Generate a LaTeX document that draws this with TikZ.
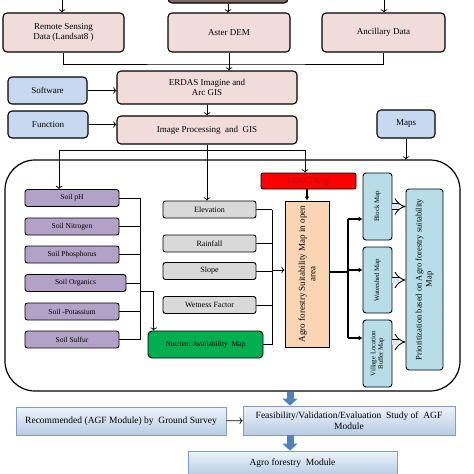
\documentclass[tikz,border=0pt]{standalone}
\usepackage{fontspec}
\setmainfont{Liberation Serif}
\usetikzlibrary{arrows.meta}
\definecolor{pinkfill}{HTML}{F2DCDB}
\definecolor{softblue}{HTML}{C6D9F1}
\definecolor{soilpurple}{HTML}{B3A2C7}
\definecolor{greyfill}{HTML}{D9D9D9}
\definecolor{nutrgreen}{HTML}{00B050}
\definecolor{lulcred}{HTML}{FF0000}
\definecolor{lulctext}{HTML}{A50000}
\definecolor{peach}{HTML}{FBD4B4}
\definecolor{mapteal}{HTML}{B7DEE8}
\definecolor{topbrown}{HTML}{7B6B69}
\definecolor{modtop}{HTML}{EEF3FA}
\definecolor{modbot}{HTML}{B8CCE4}
\definecolor{modborder}{HTML}{7F9DC7}
\definecolor{arrowblue}{HTML}{4F81BD}
\definecolor{hollowfill}{HTML}{DCE6F2}
\tikzset{
  base/.style={draw, line width=1.1pt, rounded corners=4pt, align=center, inner sep=1pt},
  pinkbox/.style={base, fill=pinkfill, font=\fontsize{9}{10.5}\selectfont},
  bluebox/.style={base, fill=softblue, font=\fontsize{9}{10.5}\selectfont},
  soilbox/.style={base, line width=0.9pt, rounded corners=2.5pt, fill=soilpurple, minimum width=94pt, minimum height=17pt, font=\fontsize{7.5}{9}\selectfont},
  greybox/.style={base, line width=0.9pt, rounded corners=2.5pt, fill=greyfill, minimum width=93pt, minimum height=17pt, font=\fontsize{8}{9}\selectfont},
  mapbox/.style={base, line width=0.9pt, rounded corners=3pt, fill=mapteal, minimum width=29pt},
  maptext/.style={rotate=90, align=center, font=\fontsize{6.8}{7.5}\selectfont},
  modbox/.style={draw=modborder, line width=0.8pt, top color=modtop, bottom color=modbot, align=center, inner sep=1pt, font=\fontsize{9.5}{11}\selectfont},
  link/.style={->, line width=0.7pt},
  boldlink/.style={-{Latex[length=4pt,width=5pt]}, line width=2pt},
  blockarrow/.style={draw=arrowblue, line width=7pt, -{Triangle[length=7pt,width=15pt]}},
  hollow/.style={double=hollowfill, double distance=5pt, line width=0.9pt, -{Implies}},
}
\begin{document}
\begin{tikzpicture}[x=1pt, y=-1pt]
  \useasboundingbox (0,0) rectangle (474,474);
  \node[draw, line width=1.2pt, rounded corners=30pt, minimum width=455pt, minimum height=231pt] (frame) at (232.5,275.5) {};

  \node[base, fill=topbrown, minimum width=120pt, minimum height=24pt] (top) at (228,-9) {};
  \node[pinkbox, minimum width=121pt, minimum height=39pt] (rs) at (63.5,32.5) {Remote Sensing\\Data (Landsat8 )};
  \node[pinkbox, minimum width=122pt, minimum height=39pt] (aster) at (229,32.5) {Aster DEM};
  \node[pinkbox, minimum width=123pt, minimum height=39pt] (anc) at (383.5,32.5) {Ancillary Data};
  \node[pinkbox, minimum width=180pt, minimum height=33pt] (erdas) at (207,87.5) {ERDAS Imagine and\\Arc GIS};
  \node[bluebox, minimum width=79pt, minimum height=27pt] (soft) at (47.5,90.5) {Software};
  \node[bluebox, minimum width=80pt, minimum height=27pt] (func) at (48,124.5) {Function};
  \node[pinkbox, minimum width=180pt, minimum height=28pt] (ip) at (207,130) {Image Processing \ and \ GIS};
  \node[bluebox, minimum width=58pt, minimum height=28pt] (maps) at (406,124) {Maps};

  \coordinate (t1) at (62,-2);
  \coordinate (t3) at (384,-2);
  \draw[link] (t1) -- (t1 |- rs.north);
  \draw[link] (top.south) -- (top.south |- aster.north);
  \draw[link] (t3) -- (t3 |- anc.north);
  \coordinate (mg) at (229,64);
  \draw[line width=0.7pt] (rs.south) |- (mg) -| (anc.south);
  \draw[link] (aster.south) -- (aster.south |- erdas.north);
  \draw[link] (soft) -- (erdas.west |- soft);
  \draw[link] (func) -- (ip.west |- func);
  \draw[link] (erdas.south) -- (ip.north);
  \draw[link] (maps.south) -- (maps.south |- frame.north);

  \node[soilbox] (ph) at (72,198) {Soil pH};
  \node[soilbox] (nit) at (72,226.5) {Soil Nitrogen};
  \node[soilbox] (pho) at (72,254.5) {Soil Phosphorus};
  \node[soilbox, minimum width=101pt] (org) at (75.5,283) {Soil Organics};
  \node[soilbox] (pot) at (72,311.5) {Soil -Potassium};
  \node[soilbox] (sul) at (72,339.5) {Soil Sulfur};

  \node[greybox] (elev) at (209.5,209.5) {Elevation};
  \node[greybox] (rain) at (209.5,243.5) {Rainfall};
  \node[greybox] (slope) at (209.5,271) {Slope};
  \node[greybox] (wet) at (209.5,305) {Wetness Factor};
  \node[base, line width=0.9pt, fill=nutrgreen, minimum width=115pt, minimum height=27pt, font=\fontsize{7.5}{9}\selectfont] (nutr) at (205.5,344.5) {Nutrient Availability \ Map};

  \node[base, line width=0.9pt, rounded corners=2pt, fill=lulcred, text=lulctext, minimum width=95pt, minimum height=16pt, font=\fontsize{9}{10}\selectfont] (lulc) at (308.5,181) {LULC Map};
  \node[draw, line width=1pt, fill=peach, minimum width=44pt, minimum height=146pt] (agro) at (307,274) {};
  \node[rotate=90, align=center, font=\fontsize{9}{10.5}\selectfont] at (agro) {Agro forestry Suitability Map in open\\area};

  \node[mapbox, minimum height=67pt] (block) at (377.5,206.5) {};
  \node[maptext] at (block) {Block Map};
  \node[mapbox, minimum height=66pt] (shed) at (377.5,280) {};
  \node[maptext] at (shed) {Watershed Map};
  \node[mapbox, minimum height=67pt] (vill) at (377.5,353.5) {};
  \node[maptext] at (vill) {Village Location\\Buffer Map};
  \node[mapbox, minimum width=37pt, minimum height=181pt] (prio) at (424.5,279.5) {};
  \node[rotate=90, align=center, font=\fontsize{8.5}{10}\selectfont] at (prio) {Prioritization based on Agro forestry suitability\\Map};

  \coordinate (bl) at (59,150);
  \coordinate (br) at (305,150);
  \draw[line width=0.7pt] (ip.south) -- (ip.south |- bl);
  \draw[line width=0.7pt] (bl) -- (br);
  \draw[link] (bl) -- (bl |- ph.north);
  \draw[link] (ip.south |- bl) -- (ip.south |- elev.north);
  \draw[link] (br) -- (br |- lulc.north);

  \coordinate (sb) at (140,0);
  \foreach \n in {ph,nit,pho,org,pot,sul}
    \draw[line width=0.7pt] (\n.east) -- (\n.east -| sb);
  \draw[line width=0.7pt] (sb |- ph.east) -- (sb |- sul.east);
  \coordinate (ob) at (140,291);
  \draw[link] (ob) -| ([xshift=6pt]nutr.north west);

  \coordinate (gb) at (272,0);
  \foreach \n in {elev,rain,slope,wet,nutr}
    \draw[line width=0.7pt] (\n.east) -- (\n.east -| gb);
  \draw[line width=0.7pt] (gb |- elev.east) -- (gb |- nutr.east);
  \coordinate (ga) at (272,270);
  \draw[link] (ga) -- (ga -| agro.west);

  \draw[boldlink] (lulc.south -| agro.north) -- (agro.north);
  \coordinate (mb) at (348,272);
  \draw[line width=2pt] (agro.east |- mb) -- (mb);
  \coordinate (ba) at ([yshift=-12.5pt]block.west);
  \coordinate (sa) at ([yshift=10pt]shed.west);
  \coordinate (va) at ([yshift=15.5pt]vill.west);
  \draw[line width=2pt] (ba -| mb) -- (va -| mb);
  \foreach \n in {ba,sa,va}
    \draw[boldlink] (\n -| mb) -- (\n);

  \coordinate (vh) at ([yshift=11.5pt]vill.east);
  \draw[hollow] (block.east) -- (block.east -| prio.west);
  \draw[hollow] (shed.east) -- (shed.east -| prio.west);
  \draw[hollow] (vh) -- (vh -| prio.west);

  \node[modbox, minimum width=210pt, minimum height=28pt] (rec) at (121,421) {Recommended (AGF Module) by \ Ground Survey};
  \node[modbox, minimum width=212pt, minimum height=29pt] (feas) at (349,420.5) {Feasibility/Validation/Evaluation \ Study of \ AGF\\Module};
  \node[modbox, minimum width=209pt, minimum height=24pt] (mod) at (292.5,463) {Agro forestry \ Module};
  \draw[link] (rec) -- (feas);

  \coordinate (fx) at (290,0);
  \draw[blockarrow] (frame.south -| fx) -- (feas.north -| fx);
  \draw[blockarrow] (feas.south -| fx) -- (mod.north -| fx);
\end{tikzpicture}
\end{document}
